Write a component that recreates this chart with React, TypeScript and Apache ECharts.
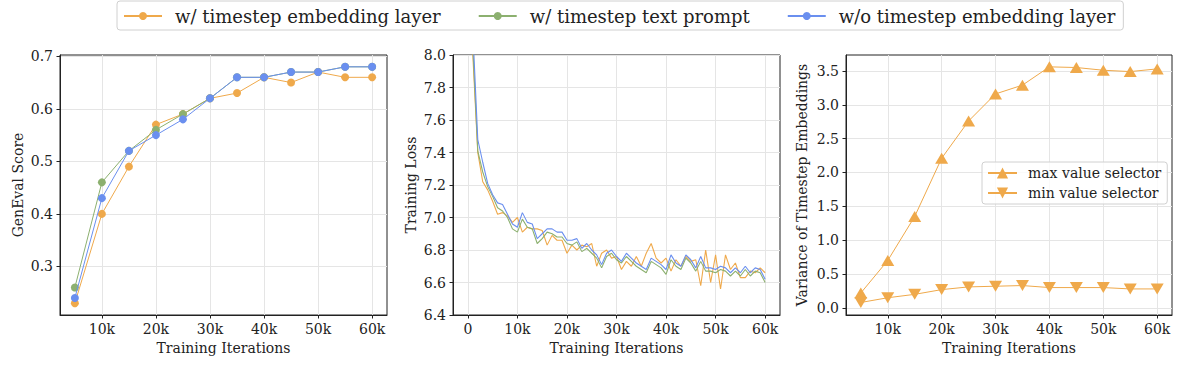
import React, { useEffect, useRef } from 'react';
import * as echarts from 'echarts';

const SERIES_NAMES = ['w/ timestep embedding layer', 'w/ timestep text prompt', 'w/o timestep embedding layer'];
const COLORS = ['#EFA94B', '#8CB06F', '#6A8FEF'];
const SELECTOR_NAMES = ['max value selector', 'min value selector'];

// Panel 1: GenEval score
const evalIters = [5000, 10000, 15000, 20000, 25000, 30000, 35000, 40000, 45000, 50000, 55000, 60000];
const evalEmbedLayer = [0.23, 0.40, 0.49, 0.57, 0.59, 0.62, 0.63, 0.66, 0.65, 0.67, 0.66, 0.66];
const evalTextPrompt = [0.26, 0.46, 0.52, 0.56, 0.59, 0.62, 0.66, 0.66, 0.67, 0.67, 0.68, 0.68];
const evalNoEmbed = [0.24, 0.43, 0.52, 0.55, 0.58, 0.62, 0.66, 0.66, 0.67, 0.67, 0.68, 0.68];

// Panel 2: training loss (iterations in thousands)
const lossItersK = [0, 1, 2, 3, 4, 5, 6, 7, 8, 9, 10, 11, 12, 13, 14, 15, 16, 17, 18, 19, 20, 21, 22, 23, 24, 25, 26, 27, 28, 29, 30, 31, 32, 33, 34, 35, 36, 37, 38, 39, 40, 41, 42, 43, 44, 45, 46, 47, 48, 49, 50, 51, 52, 53, 54, 55, 56, 57, 58, 59, 60];
const lossEmbedLayer = [10.8, 8.0, 7.4, 7.22, 7.17, 7.1, 7.02, 7.03, 7.01, 6.97, 7.0, 6.91, 6.94, 6.93, 6.93, 6.92, 6.83, 6.89, 6.86, 6.86, 6.78, 6.83, 6.8, 6.83, 6.82, 6.84, 6.7, 6.78, 6.8, 6.75, 6.76, 6.68, 6.73, 6.7, 6.76, 6.7, 6.78, 6.84, 6.75, 6.72, 6.75, 6.67, 6.74, 6.7, 6.76, 6.73, 6.74, 6.58, 6.8, 6.6, 6.77, 6.56, 6.77, 6.68, 6.72, 6.63, 6.63, 6.67, 6.66, 6.69, 6.66];
const lossTextPrompt = [10.8, 8.05, 7.41, 7.28, 7.19, 7.13, 7.06, 7.04, 7.0, 6.93, 6.91, 6.99, 6.94, 6.93, 6.84, 6.87, 6.91, 6.9, 6.88, 6.88, 6.84, 6.83, 6.85, 6.79, 6.81, 6.78, 6.75, 6.69, 6.76, 6.78, 6.74, 6.72, 6.76, 6.73, 6.7, 6.68, 6.66, 6.73, 6.71, 6.69, 6.65, 6.74, 6.7, 6.68, 6.75, 6.72, 6.67, 6.73, 6.67, 6.67, 6.66, 6.68, 6.67, 6.64, 6.67, 6.64, 6.68, 6.64, 6.67, 6.66, 6.6];
const lossNoEmbed = [10.8, 8.15, 7.48, 7.34, 7.21, 7.14, 7.09, 7.08, 7.02, 6.96, 6.94, 7.03, 6.97, 6.96, 6.87, 6.9, 6.93, 6.93, 6.91, 6.91, 6.86, 6.86, 6.87, 6.81, 6.84, 6.8, 6.77, 6.71, 6.78, 6.8, 6.76, 6.73, 6.78, 6.75, 6.72, 6.7, 6.68, 6.75, 6.73, 6.71, 6.68, 6.77, 6.72, 6.7, 6.77, 6.74, 6.69, 6.76, 6.69, 6.69, 6.68, 6.7, 6.69, 6.66, 6.69, 6.66, 6.7, 6.66, 6.69, 6.68, 6.62];

// Panel 3: variance of timestep embeddings
const varIters = [5000, 10000, 15000, 20000, 25000, 30000, 35000, 40000, 45000, 50000, 55000, 60000];
const varMaxSelector = [0.22, 0.70, 1.35, 2.21, 2.76, 3.16, 3.29, 3.56, 3.55, 3.51, 3.49, 3.53];
const varMinSelector = [0.08, 0.15, 0.20, 0.27, 0.31, 0.32, 0.33, 0.30, 0.30, 0.30, 0.28, 0.28];

// Tick labels
const iterTicks = [10000, 20000, 30000, 40000, 50000, 60000];
const lossIterTicks = [0, 10000, 20000, 30000, 40000, 50000, 60000];
const evalTicks = [0.3, 0.4, 0.5, 0.6, 0.7];
const lossTicks = [6.4, 6.6, 6.8, 7.0, 7.2, 7.4, 7.6, 7.8, 8.0];
const varTicks = [0, 0.5, 1.0, 1.5, 2.0, 2.5, 3.0, 3.5];

const FONT = 'DejaVu Serif';
const TEXT = '#222';
const FS = 14;

const pair = (xs: number[], ys: number[]) => xs.map((x, i) => [x, ys[i]]);
const kFmt = (v: number) => (v === 0 ? '0' : `${Math.round(v / 1000)}k`);

function xAxis(gridIndex: number, min: number, max: number, ticks: number[]) {
  return {
    type: 'value',
    gridIndex,
    min,
    max,
    minInterval: 10000,
    maxInterval: 10000,
    name: 'Training Iterations',
    nameLocation: 'middle',
    nameGap: 24,
    nameTextStyle: { fontFamily: FONT, fontSize: FS, color: TEXT },
    axisLine: { show: true, onZero: false, lineStyle: { color: '#222', width: 1 } },
    axisTick: { show: true, length: 3.5, customValues: ticks, lineStyle: { color: '#222' } },
    axisLabel: { customValues: ticks, formatter: kFmt, fontFamily: FONT, fontSize: FS, color: TEXT, margin: 7 },
    splitLine: { show: true, lineStyle: { color: '#e5e5e5', width: 1 } },
  };
}

function yAxis(gridIndex: number, min: number, max: number, step: number, ticks: number[], name: string, nameGap: number) {
  return {
    type: 'value',
    gridIndex,
    min,
    max,
    minInterval: step,
    maxInterval: step,
    name,
    nameLocation: 'middle',
    nameGap,
    nameTextStyle: { fontFamily: FONT, fontSize: FS, color: TEXT },
    axisLine: { show: true, onZero: false, lineStyle: { color: '#222', width: 1 } },
    axisTick: { show: true, length: 3.5, customValues: ticks, lineStyle: { color: '#222' } },
    axisLabel: { customValues: ticks, formatter: (v: number) => v.toFixed(1), fontFamily: FONT, fontSize: FS, color: TEXT, margin: 7 },
    splitLine: { show: true, lineStyle: { color: '#e5e5e5', width: 1 } },
  };
}

export default function App() {
  const ref = useRef<HTMLDivElement>(null);
  useEffect(() => {
    if (!ref.current) return;
    const chart = echarts.init(ref.current, undefined, { renderer: 'svg' });
    const gridBase = { top: 55, height: 260, show: true, borderColor: '#222', borderWidth: 1, backgroundColor: 'transparent' };
    const evalData = [evalEmbedLayer, evalTextPrompt, evalNoEmbed];
    const lossData = [lossEmbedLayer, lossTextPrompt, lossNoEmbed];
    const lossIters = lossItersK.map((k) => k * 1000);
    const option: any = {
      animation: false,
      backgroundColor: '#fff',
      grid: [
        { ...gridBase, left: 60, width: 327 },
        { ...gridBase, left: 453, width: 327 },
        { ...gridBase, left: 846, width: 326 },
      ],
      xAxis: [
        xAxis(0, 2250, 62750, iterTicks),
        xAxis(1, -3000, 63000, lossIterTicks),
        xAxis(2, 2250, 62750, iterTicks),
      ],
      yAxis: [
        yAxis(0, 0.2075, 0.7025, 0.1, evalTicks, 'GenEval Score', 35),
        yAxis(1, 6.4, 8.0, 0.2, lossTicks, 'Training Loss', 35),
        yAxis(2, -0.105, 3.735, 0.5, varTicks, 'Variance of Timestep Embeddings', 37),
      ],
      legend: [
        {
          data: SERIES_NAMES,
          left: 117,
          top: 1,
          orient: 'horizontal',
          itemWidth: 38,
          itemHeight: 10,
          itemGap: 37,
          padding: [6, 8, 5, 6],
          borderColor: '#d0d0d0',
          borderWidth: 1,
          borderRadius: 3,
          backgroundColor: '#fff',
          textStyle: { fontFamily: FONT, fontSize: 18, color: TEXT, padding: [0, 0, 0, 8] },
        },
        {
          data: SELECTOR_NAMES,
          left: 982,
          top: 162,
          orient: 'vertical',
          itemWidth: 29,
          itemHeight: 14,
          itemGap: 6,
          padding: [4, 6, 4, 5],
          borderColor: '#d0d0d0',
          borderWidth: 1,
          borderRadius: 3,
          backgroundColor: 'rgba(255,255,255,0.8)',
          textStyle: { fontFamily: FONT, fontSize: 14, color: TEXT, padding: [0, 0, 0, 6] },
        },
      ],
      series: [
        ...SERIES_NAMES.map((name, i) => ({
          name,
          type: 'line',
          xAxisIndex: 0,
          yAxisIndex: 0,
          data: pair(evalIters, evalData[i]),
          symbol: 'circle',
          symbolSize: 8,
          color: COLORS[i],
          itemStyle: { color: COLORS[i] },
          lineStyle: { color: COLORS[i], width: 1 },
          z: 2 + i,
        })),
        ...SERIES_NAMES.map((name, i) => ({
          name,
          type: 'line',
          xAxisIndex: 1,
          yAxisIndex: 1,
          data: pair(lossIters, lossData[i]),
          symbol: 'none',
          color: COLORS[i],
          lineStyle: { color: COLORS[i], width: 1.1 },
          clip: true,
          z: 2 + i,
        })),
        {
          name: SELECTOR_NAMES[0],
          type: 'line',
          xAxisIndex: 2,
          yAxisIndex: 2,
          data: pair(varIters, varMaxSelector),
          symbol: 'triangle',
          symbolSize: [13, 11],
          color: COLORS[0],
          itemStyle: { color: COLORS[0] },
          lineStyle: { color: COLORS[0], width: 1 },
        },
        {
          name: SELECTOR_NAMES[1],
          type: 'line',
          xAxisIndex: 2,
          yAxisIndex: 2,
          data: pair(varIters, varMinSelector),
          symbol: 'triangle',
          symbolRotate: 180,
          symbolSize: [13, 11],
          color: COLORS[0],
          itemStyle: { color: COLORS[0] },
          lineStyle: { color: COLORS[0], width: 1 },
        },
      ],
    };
    chart.setOption(option);
    return () => chart.dispose();
  }, []);
  return <div ref={ref} style={{ position: 'absolute', left: 0, top: 0, width: 1178, height: 389 }} />;
}
